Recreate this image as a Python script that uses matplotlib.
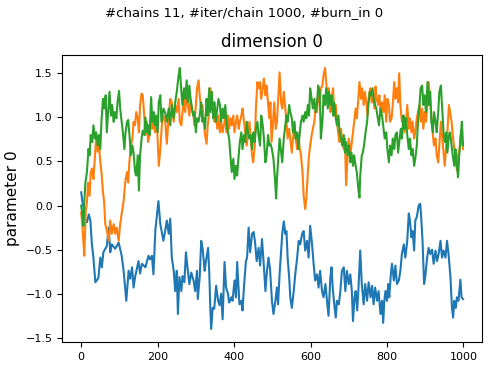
import matplotlib
matplotlib.use("Agg")
import matplotlib.pyplot as plt

# values (iteration, parameter value)
iter_blue = [0, 3, 7, 10, 15, 20, 24, 28, 32, 37, 45, 50, 54, 58, 67, 72, 76, 80, 89, 98,
             106, 111, 115, 118, 124, 128, 133, 137, 141, 150, 154, 159, 168, 176, 180, 185, 189, 194, 198, 202,
             207, 215, 220, 224, 229, 233, 237, 242, 246, 250, 253, 257, 262, 265, 270, 274, 279, 283, 288, 294,
             298, 303, 305, 310, 314, 318, 323, 326, 332, 335, 338, 340, 344, 348, 353, 358, 362, 366, 370, 375,
             379, 384, 387, 393, 396, 401, 405, 408, 414, 419, 422, 426, 431, 434, 438, 442, 447, 451, 455, 459,
             464, 468, 473, 477, 482, 486, 490, 494, 499, 503, 508, 512, 515, 519, 523, 526, 530, 534, 537, 540,
             544, 547, 551, 556, 560, 565, 569, 573, 578, 582, 586, 591, 595, 599, 604, 608, 612, 617, 621, 625,
             630, 634, 639, 643, 647, 652, 655, 658, 662, 666, 669, 674, 678, 682, 687, 691, 695, 700, 704, 708,
             711, 715, 718, 722, 725, 730, 734, 739, 743, 748, 752, 757, 761, 765, 769, 774, 778, 783, 787, 790,
             793, 796, 800, 803, 806, 810, 813, 818, 822, 826, 831, 835, 839, 844, 848, 853, 857, 860, 864, 867,
             871, 874, 878, 883, 887, 890, 893, 897, 900, 905, 909, 913, 918, 922, 927, 931, 935, 940, 944, 948,
             953, 957, 961, 966, 970, 973, 976, 980, 983, 987, 992, 995, 999]
val_blue = [0.15, 0.05, -0.05, -0.15, -0.19, -0.10, -0.17, -0.44, -0.59, -0.87, -0.82, -0.59, -0.70, -0.53, -0.46, -0.25, -0.53, -0.44, -0.49, -0.42,
            -0.57, -0.74, -0.93, -1.08, -0.74, -0.83, -0.70, -0.93, -0.81, -0.63, -0.77, -0.66, -0.70, -0.57, -0.61, -0.57, -0.78, -0.28, -0.12, 0.05,
            -0.21, -0.40, -0.28, -0.17, -0.32, -0.15, -0.59, -0.74, -0.97, -0.74, -1.23, -0.81, -0.97, -0.80, -0.87, -0.53, -0.74, -0.89, -0.76, -0.85,
            -0.97, -0.74, -1.06, -0.81, -0.40, -0.50, -0.74, -0.64, -0.48, -0.76, -1.19, -1.40, -1.16, -1.17, -0.91, -1.08, -1.13, -1.00, -1.29, -0.64,
            -0.93, -1.00, -1.10, -1.04, -1.08, -0.85, -1.04, -0.64, -1.12, -1.08, -1.19, -0.91, -0.63, -0.59, -0.25, -0.53, -0.32, -0.30, -0.42, -0.63,
            -0.48, -0.68, -0.38, -0.63, -0.97, -0.74, -0.59, -0.72, -1.08, -1.23, -1.08, -0.93, -1.12, -0.78, -0.51, -0.32, -0.18, -0.32, -0.29, -0.59,
            -0.81, -1.04, -1.16, -0.97, -0.78, -0.59, -0.40, -0.44, -0.32, -0.29, -0.51, -0.40, -0.59, -0.23, -0.44, -0.66, -0.85, -0.78, -0.93, -0.74,
            -0.97, -1.04, -0.89, -1.08, -1.25, -0.81, -0.70, -0.93, -1.12, -1.27, -1.08, -1.12, -0.97, -0.74, -0.70, -0.97, -0.74, -0.89, -0.78, -0.97,
            -1.31, -1.04, -0.97, -1.19, -0.97, -0.51, -0.89, -1.12, -0.89, -1.08, -0.87, -1.04, -0.91, -1.12, -0.93, -1.08, -0.97, -1.23, -1.08, -1.33,
            -1.08, -0.97, -1.08, -0.89, -1.04, -0.78, -0.66, -0.85, -0.68, -0.89, -0.85, -0.74, -0.55, -0.44, -0.59, -0.40, -0.09, -0.17, -0.36, -0.29,
            -0.51, -0.17, -0.13, 0.00, 0.02, -0.17, -0.40, -0.89, -0.81, -0.59, -0.48, -0.55, -0.50, -0.66, -0.51, -0.63, -0.55, -0.40, -0.59, -0.51,
            -0.59, -0.40, -0.55, -0.81, -1.16, -1.27, -1.08, -1.16, -1.04, -1.08, -0.84, -1.04, -1.06]

iter_orange = [0, 3, 6, 8, 12, 15, 18, 22, 25, 29, 32, 36, 39, 43, 46, 50, 53, 57, 60, 63,
               67, 72, 76, 80, 85, 89, 93, 98, 102, 106, 111, 115, 120, 123, 126, 130, 134, 137, 141, 144,
               148, 151, 154, 158, 161, 165, 168, 172, 175, 179, 182, 186, 189, 193, 198, 203, 207, 211, 215, 220,
               224, 229, 233, 237, 242, 246, 250, 255, 258, 262, 265, 269, 272, 276, 279, 283, 286, 290, 293, 296,
               300, 303, 307, 310, 314, 317, 321, 324, 328, 331, 335, 338, 342, 345, 349, 352, 356, 359, 363, 366,
               370, 373, 377, 380, 384, 387, 391, 394, 398, 401, 405, 408, 412, 415, 419, 422, 426, 429, 433, 436,
               440, 443, 447, 450, 454, 457, 461, 464, 468, 471, 475, 478, 482, 485, 489, 492, 495, 498, 502, 505,
               509, 512, 516, 519, 523, 526, 530, 533, 537, 540, 544, 547, 551, 554, 558, 561, 565, 568, 572, 575,
               579, 582, 586, 589, 593, 596, 599, 603, 606, 610, 613, 617, 620, 624, 627, 631, 634, 638, 641, 645,
               648, 652, 655, 659, 662, 666, 669, 673, 676, 680, 683, 687, 690, 693, 697, 700, 704, 707, 711, 714,
               718, 721, 725, 728, 732, 735, 739, 742, 746, 749, 753, 756, 760, 763, 767, 770, 773, 777, 780, 784,
               787, 791, 794, 798, 801, 805, 808, 812, 815, 819, 822, 826, 829, 832, 835, 839, 843, 846, 850, 853,
               857, 860, 864, 867, 871, 874, 878, 881, 885, 888, 892, 895, 899, 902, 906, 909, 913, 916, 920, 923,
               927, 930, 934, 937, 941, 944, 948, 951, 955, 958, 962, 965, 969, 972, 976, 979, 983, 986, 990, 993,
               996, 999]
val_orange = [-0.08, -0.23, -0.42, -0.57, -0.06, 0.04, 0.26, 0.11, 0.38, 0.42, 0.30, 0.57, 0.76, 0.61, 0.72, 0.49, 0.38, 0.15, 0.04, -0.21,
              -0.28, -0.40, -0.17, -0.32, -0.21, -0.32, -0.25, -0.40, -0.21, -0.09, 0.05, 0.26, 0.38, 0.26, 0.49, 0.68, 0.76, 0.95, 0.91, 1.06,
              0.99, 0.83, 1.14, 1.27, 1.25, 1.02, 0.80, 0.95, 0.72, 0.80, 0.95, 0.87, 1.02, 0.83, 0.95, 0.45, 0.64, 0.91, 1.02, 0.95,
              0.70, 1.02, 1.21, 1.17, 0.95, 1.14, 1.06, 1.21, 0.95, 0.91, 1.06, 1.25, 1.06, 1.29, 1.14, 1.02, 1.21, 1.06, 1.06, 0.91,
              1.14, 1.33, 1.42, 1.25, 1.06, 1.14, 0.95, 0.80, 0.70, 0.91, 1.06, 1.33, 1.14, 1.17, 0.95, 1.06, 0.87, 1.02, 0.83, 0.95,
              0.83, 0.91, 0.99, 0.83, 1.02, 0.87, 0.99, 0.91, 1.02, 0.83, 0.95, 1.02, 0.87, 0.95, 1.02, 1.10, 0.95, 0.83, 0.68, 0.80,
              0.95, 0.80, 0.57, 0.49, 0.68, 1.10, 1.40, 1.33, 1.40, 1.21, 1.33, 1.44, 1.25, 1.36, 1.14, 0.99, 1.17, 0.72, 0.95, 1.17,
              0.87, 0.95, 1.25, 1.51, 1.17, 1.10, 1.29, 1.14, 0.95, 0.76, 0.87, 0.76, 0.60, 0.76, 0.91, 0.76, 0.64, 0.80, 0.64, 0.57,
              0.38, 0.11, -0.04, 0.08, 0.38, 0.57, 0.68, 0.80, 0.87, 0.95, 1.10, 1.06, 1.25, 1.17, 1.33, 1.36, 1.48, 1.56, 1.40, 1.17,
              1.33, 1.06, 1.21, 1.33, 1.02, 1.14, 0.95, 0.80, 0.72, 0.87, 0.72, 0.64, 0.76, 0.23, 0.57, 0.76, 0.57, 0.68, 0.83, 0.95,
              1.10, 0.99, 1.21, 1.40, 1.21, 1.33, 1.14, 1.29, 1.17, 1.02, 1.25, 1.33, 1.17, 1.29, 1.10, 1.35, 1.21, 1.14, 1.25, 1.02,
              1.17, 1.06, 1.25, 0.95, 1.21, 1.14, 0.95, 0.99, 1.14, 1.40, 1.21, 1.33, 1.17, 1.50, 1.14, 0.95, 1.02, 0.83, 0.95, 1.14,
              0.87, 0.99, 0.83, 0.95, 0.76, 0.83, 0.99, 1.06, 1.14, 0.95, 1.10, 0.87, 1.06, 0.95, 1.14, 1.40, 1.21, 1.02, 0.80, 0.68,
              0.76, 0.57, 0.49, 0.68, 0.95, 0.80, 0.60, 0.45, 0.68, 0.83, 1.14, 1.06, 0.95, 0.80, 0.64, 0.53, 0.40, 0.57, 0.64, 0.80,
              0.72, 0.64]

iter_green = [0, 3, 6, 8, 11, 15, 19, 22, 25, 29, 32, 36, 39, 43, 46, 50, 53, 57, 60, 64,
              67, 71, 74, 78, 81, 85, 88, 92, 95, 99, 102, 106, 109, 113, 116, 120, 123, 127, 130, 134,
              137, 141, 144, 148, 151, 154, 158, 161, 165, 168, 172, 175, 179, 183, 186, 190, 193, 196, 200, 203,
              207, 210, 215, 220, 224, 229, 233, 237, 242, 246, 250, 255, 258, 262, 265, 269, 272, 276, 279, 283,
              286, 290, 293, 296, 300, 303, 307, 310, 314, 317, 321, 324, 328, 331, 335, 338, 342, 345, 349, 352,
              356, 359, 363, 366, 370, 373, 377, 380, 384, 387, 391, 394, 398, 401, 405, 408, 412, 415, 419, 422,
              426, 429, 433, 436, 440, 443, 447, 450, 454, 457, 461, 464, 468, 471, 475, 478, 482, 485, 489, 492,
              495, 499, 503, 507, 510, 512, 516, 519, 523, 526, 530, 533, 537, 540, 544, 547, 551, 554, 558, 561,
              565, 568, 572, 575, 579, 582, 586, 589, 593, 596, 599, 603, 606, 610, 613, 617, 620, 624, 627, 631,
              634, 638, 641, 645, 648, 652, 655, 659, 662, 666, 669, 673, 676, 680, 683, 687, 690, 693, 697, 700,
              704, 707, 711, 714, 718, 721, 725, 728, 730, 734, 737, 741, 744, 748, 751, 755, 758, 762, 765, 769,
              772, 776, 779, 783, 787, 791, 794, 798, 801, 805, 808, 812, 815, 819, 822, 826, 829, 833, 836, 839,
              843, 846, 850, 853, 857, 860, 864, 867, 871, 874, 878, 881, 885, 888, 892, 895, 898, 902, 906, 909,
              913, 916, 920, 923, 927, 930, 934, 937, 941, 944, 948, 951, 955, 958, 962, 965, 969, 972, 976, 979,
              982, 986, 989, 993, 996, 999]
val_green = [0.00, -0.10, -0.23, 0.04, 0.26, 0.38, 0.64, 0.57, 0.80, 0.72, 0.91, 0.76, 0.83, 0.68, 0.80, 0.64, 0.95, 1.21, 1.10, 1.25,
             0.83, 1.10, 1.29, 1.02, 1.14, 0.95, 1.06, 0.99, 1.17, 1.30, 1.10, 0.95, 0.83, 0.64, 0.83, 0.95, 0.97, 0.76, 0.57, 0.68,
             0.60, 0.38, 0.34, 0.57, 0.17, 0.57, 0.76, 0.85, 0.80, 1.00, 0.83, 0.91, 0.80, 1.23, 0.95, 1.06, 0.91, 1.02, 0.83, 1.17,
             1.25, 0.95, 1.10, 1.05, 0.95, 1.10, 0.91, 1.14, 0.99, 1.17, 1.29, 1.48, 1.56, 1.29, 1.14, 1.33, 1.21, 1.42, 1.17, 1.36,
             1.21, 1.10, 1.02, 1.06, 0.83, 0.99, 0.95, 1.02, 1.17, 0.95, 0.99, 0.87, 1.21, 1.02, 1.33, 1.06, 1.29, 0.99, 1.17, 0.95,
             1.10, 1.21, 1.14, 0.95, 1.10, 0.99, 1.14, 0.95, 0.83, 0.76, 0.53, 0.38, 0.53, 0.30, 0.45, 0.34, 0.57, 0.72, 0.83, 0.64,
             0.80, 0.72, 0.95, 0.83, 0.76, 0.80, 0.64, 0.83, 0.72, 0.87, 0.95, 0.80, 0.68, 1.02, 0.91, 0.76, 0.49, 0.57, 0.80, 0.68,
             0.70, 0.64, 0.53, 0.30, 0.08, 0.30, 0.57, 0.76, 0.60, 0.49, 0.76, 0.87, 1.02, 0.95, 1.14, 1.06, 0.99, 0.83, 0.95, 0.76,
             0.83, 0.64, 0.83, 0.95, 1.02, 0.95, 1.06, 0.99, 1.14, 1.02, 1.33, 1.21, 1.10, 1.21, 1.06, 1.17, 1.36, 1.29, 0.76, 0.95,
             1.25, 1.14, 1.33, 1.10, 1.29, 1.14, 1.25, 1.02, 1.17, 0.99, 0.91, 1.02, 0.83, 0.76, 0.68, 0.80, 0.60, 0.72, 0.57, 0.68,
             0.49, 0.60, 0.45, 0.57, 0.45, 0.38, 0.19, 0.09, 0.34, 0.57, 0.60, 0.72, 0.83, 0.95, 1.14, 1.29, 1.25, 1.33, 1.21, 1.14,
             1.10, 0.99, 0.91, 1.10, 1.02, 0.87, 0.76, 0.83, 0.64, 0.49, 0.68, 0.57, 0.76, 0.64, 0.80, 0.83, 0.60, 0.76, 0.87, 0.76,
             1.02, 0.87, 0.99, 0.80, 0.64, 0.76, 0.57, 0.64, 0.45, 0.53, 0.68, 0.95, 1.14, 1.33, 1.36, 1.14, 1.25, 1.06, 1.40, 1.14,
             1.29, 0.95, 0.83, 1.06, 0.95, 0.83, 1.06, 1.29, 1.36, 1.14, 0.83, 0.72, 0.83, 0.60, 0.80, 0.83, 0.68, 0.57, 0.45, 0.64,
             0.49, 0.32, 0.57, 0.80, 0.95, 0.68]

suptitle = "#chains 11, #iter/chain 1000, #burn_in 0"

fig = plt.figure(figsize=(4.89, 3.71), dpi=100)
ax = fig.add_axes([0.127, 0.078, 0.859, 0.774])

ax.plot(iter_blue, val_blue, color="C0")
ax.plot(iter_orange, val_orange, color="C1")
ax.plot(iter_green, val_green, color="C2")

ax.set_title("dimension 0", fontsize=12)
ax.set_ylabel("parameter 0", fontsize=11)
ax.tick_params(labelsize=8)
fig.suptitle(suptitle, fontsize=9.5, y=0.985)

fig.savefig("out.png", dpi=100)
